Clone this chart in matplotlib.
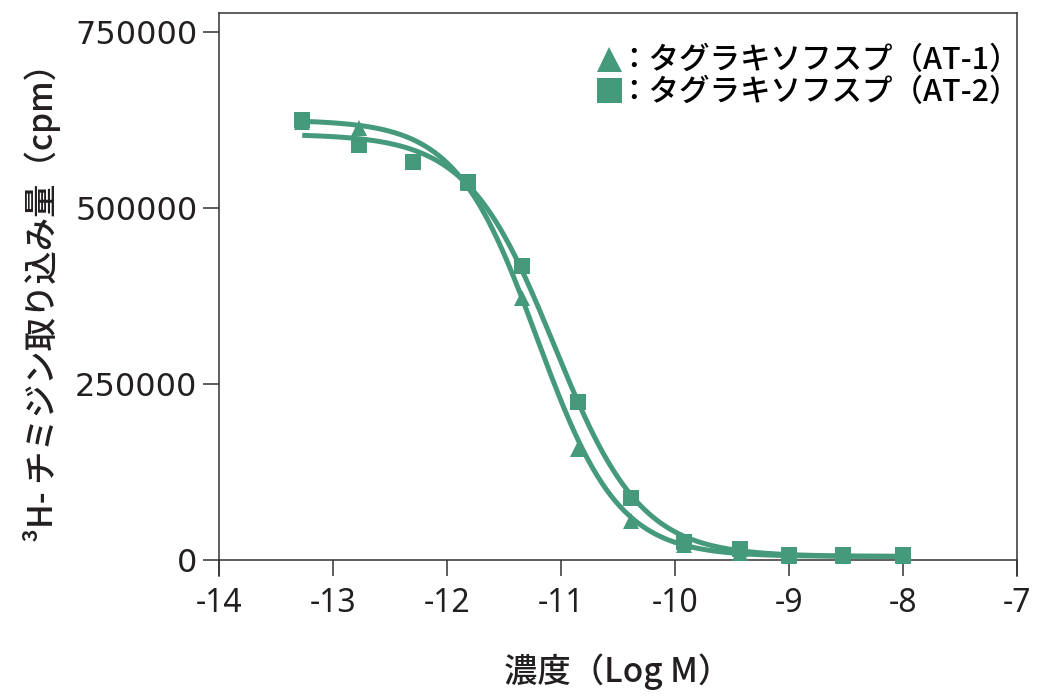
import numpy as np
import matplotlib
matplotlib.use("Agg")
import matplotlib.pyplot as plt
from matplotlib.lines import Line2D

plt.rcParams["axes.unicode_minus"] = False

# --- data --------------------------------------------------------------
log_conc_at1 = [-13.27, -12.77, -11.82, -11.34, -10.85, -10.39, -9.92, -9.43, -9.0, -8.53, -8.0]
cpm_at1      = [622000, 613000, 535000, 372000, 157000, 55000, 22000, 10000, 6000, 5000, 5000]

log_conc_at2 = [-13.27, -12.77, -12.30, -11.82, -11.34, -10.85, -10.39, -9.92, -9.43, -9.0, -8.53, -8.0]
cpm_at2      = [625000, 589000, 565000, 537000, 417000, 224000, 88000, 25000, 15000, 7000, 7000, 7000]

# 4-parameter logistic fit parameters (top, bottom, logIC50, hill)
fit_at1 = (625000, 5000, -11.21, 1.22)
fit_at2 = (605000, 5000, -11.06, 1.14)

labels = ["：タグラキソフスプ（AT-1）", "：タグラキソフスプ（AT-2）"]
xticks = [-14, -13, -12, -11, -10, -9, -8, -7]
yticks = [0, 250000, 500000, 750000]

TEAL = "#459a7b"
INK  = "#231f20"
CJK  = ["Noto Sans CJK JP", "DejaVu Sans"]


def logistic(x, top, bottom, c, h):
    return bottom + (top - bottom) / (1 + 10 ** ((x - c) * h))


fig = plt.figure(figsize=(10.6, 7.0), dpi=100)
ax = fig.add_axes([219/1060, 1 - 576/700, 798/1060, 563/700])

xs = np.linspace(-13.27, -8.0, 400)
ax.plot(xs, logistic(xs, *fit_at1), color=TEAL, lw=3.6, zorder=2, solid_capstyle="butt")
ax.plot(xs, logistic(xs, *fit_at2), color=TEAL, lw=3.6, zorder=2, solid_capstyle="butt")
ax.plot(log_conc_at1, cpm_at1, ls="none", marker="^", ms=11, color=TEAL, mew=0, zorder=3)
ax.plot(log_conc_at2, cpm_at2, ls="none", marker="s", ms=11, color=TEAL, mew=0, zorder=3)

px = 750000 / 528
ax.set_xlim(-14, -7)
ax.set_ylim(-16 * px, 750000 + 19 * px)

for s in ax.spines.values():
    s.set_color("#333333"); s.set_linewidth(1.1)
ax.spines["bottom"].set_position(("data", 0))

ax.set_xticks(xticks)
ax.set_xticklabels([str(v) for v in xticks], family="Noto Sans", fontsize=23, color=INK)
ax.set_yticks(yticks)
ax.set_yticklabels([str(v) for v in yticks], family="DejaVu Sans", fontsize=23, color=INK)
ax.tick_params(axis="both", direction="out", length=11.5, width=1.1, color="#333333")
ax.tick_params(axis="x", pad=8)
ax.tick_params(axis="y", pad=4)

ax.set_xlabel("濃度（Log M）", family=CJK, fontsize=24, fontweight="medium",
              color=INK, labelpad=24)
ax.set_ylabel("³H- チミジン取り込み量（cpm）", family=CJK, fontsize=24,
              fontweight="medium", color=INK, labelpad=10)

handles = [Line2D([], [], ls="none", marker="^", ms=18, color=TEAL, mew=0),
           Line2D([], [], ls="none", marker="s", ms=18, color=TEAL, mew=0)]
ax.legend(handles, labels, loc="upper right", bbox_to_anchor=(1.004, 0.9425),
          frameon=False, handlelength=1.0, handletextpad=-0.2, labelspacing=0.02,
          borderaxespad=0, borderpad=0,
          prop={"family": CJK, "size": 22, "weight": "medium"})

fig.savefig("out.png", dpi=100)
